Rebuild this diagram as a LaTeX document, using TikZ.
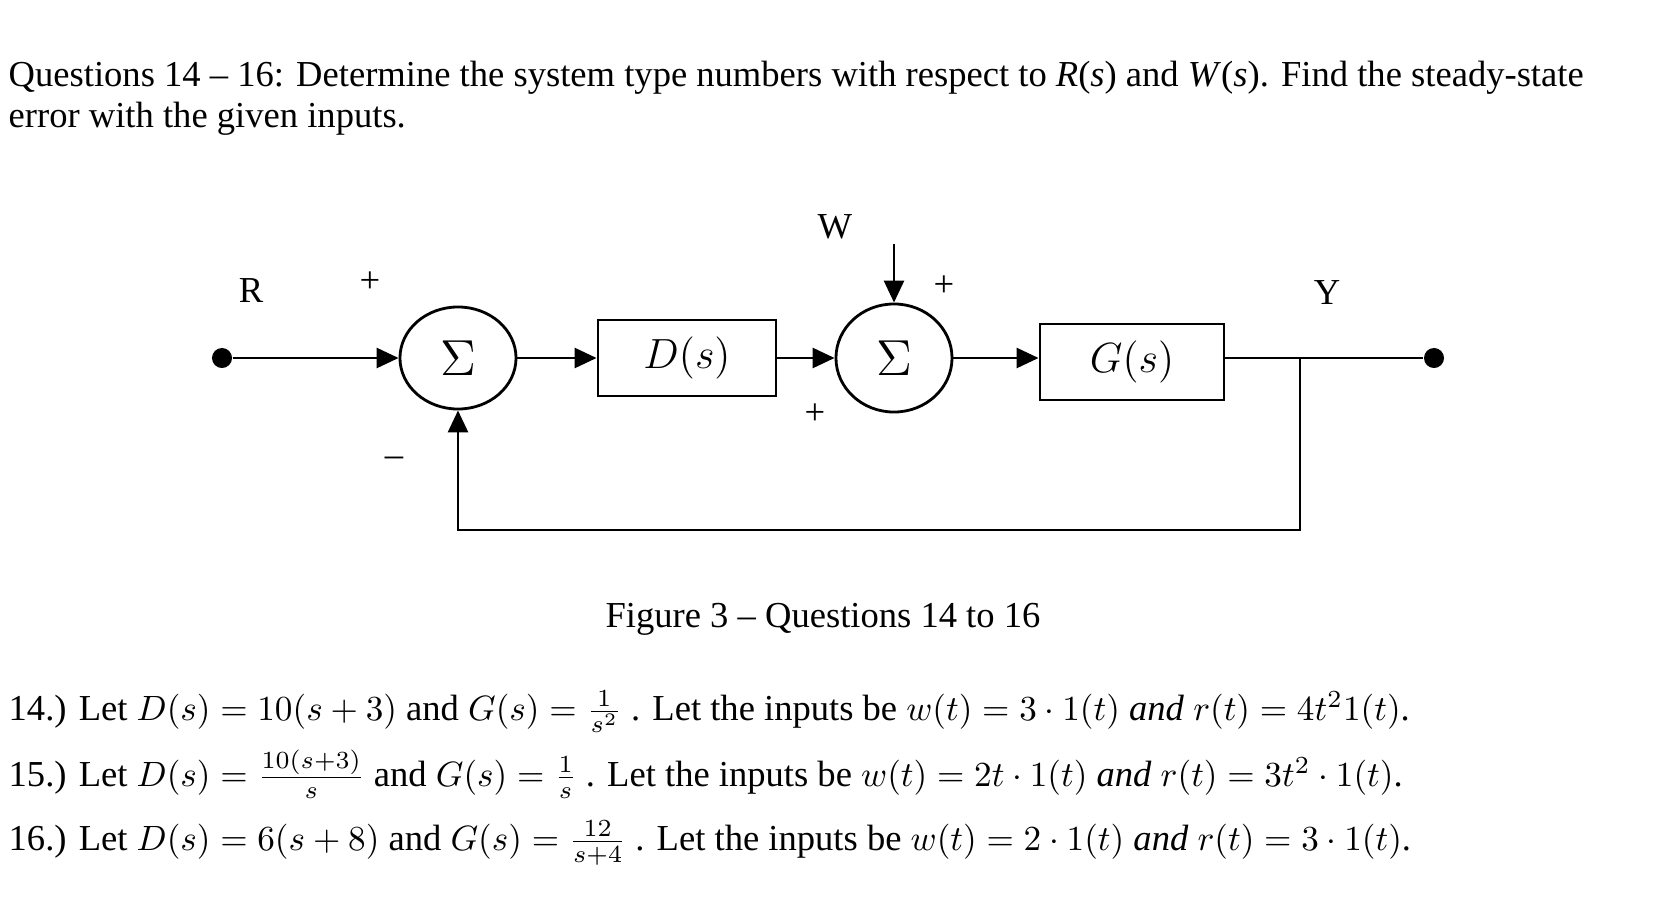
\documentclass[tikz,border=0pt]{standalone}
\usepackage{amsmath}
\usepackage{fontspec}
\setmainfont{Liberation Serif}
\usetikzlibrary{positioning, arrows.meta, shapes.geometric}

\tikzset{
  sumnode/.style={ellipse, draw, thick, minimum width=1.16cm, minimum height=1.02cm, inner sep=0pt, font=\Large},
  block/.style={draw, thick, minimum height=0.76cm, inner sep=0pt, font=\large},
  sig/.style={thick, -{Triangle[length=2.2mm, width=2mm]}},
  term/.style={circle, fill, inner sep=0pt, minimum size=2mm},
  txt/.style={font=\fontsize{10.4}{13}\selectfont, inner sep=0pt, anchor=base west}
}

\begin{document}
\begin{tikzpicture}[x=0.01cm, y=-0.01cm]
    \useasboundingbox (0,0) rectangle (1654,912);

    % Question text
    \node[txt] (q1) at (8,87) {Questions 14 -- 16: Determine the system type numbers with respect to \textit{R}(\textit{s}) and \textit{W}(\textit{s}). Find the steady-state};
    \node[txt] (q2) at (8,127) {error with the given inputs.};

    % Blocks
    \node[term] (r) at (222,358) {};
    \node[sumnode] (s1) at (458,358) {$\Sigma$};
    \node[block, minimum width=1.78cm] (d) at (687,358) {$D(s)$};
    \node[sumnode, minimum height=1.08cm] (s2) at (894,358) {$\Sigma$};
    \node[block, minimum width=1.84cm] (g) at (1132,362) {$G(s)$};
    \node[term] (y) at (1434,358) {};
    \coordinate (w) at (894,244);
    \coordinate (br) at (1300,358);
    \coordinate (bot) at (1300,530);

    % Signals
    \draw[sig] (r) -- (s1);
    \draw[sig] (s1) -- (d);
    \draw[sig] (d) -- (s2);
    \draw[sig] (s2) -- (g.west |- s2);
    \draw[thick] (g.east |- y) -- (y);
    \draw[sig] (w) -- (s2);
    \draw[sig] (br) -- (bot) -| (s1.south);

    % Labels
    \node[txt, anchor=base] at (251,302) {R};
    \node[txt, anchor=base] at (370,292) {+};
    \node[txt, anchor=base] at (394,466) {--};
    \node[txt, anchor=base] at (835,238) {W};
    \node[txt, anchor=base] at (944,296) {+};
    \node[txt, anchor=base] at (815,424) {+};
    \node[txt, anchor=base] at (1327,304) {Y};

    % Caption and questions
    \node[txt, anchor=base] (cap) at (823,627) {Figure 3 -- Questions 14 to 16};
    \node[txt] (e1) at (8,720) {14.) Let $D(s)=10(s+3)$ and $G(s)=\frac{1}{s^2}$ . Let the inputs be $w(t)=3\cdot1(t)$ \textit{and} $r(t)=4t^21(t)$.};
    \node[txt] (e2) at (8,786) {15.) Let $D(s)=\frac{10(s+3)}{s}$ and $G(s)=\frac{1}{s}$ . Let the inputs be $w(t)=2t\cdot1(t)$ \textit{and} $r(t)=3t^2\cdot1(t)$.};
    \node[txt] (e3) at (8,850) {16.) Let $D(s)=6(s+8)$ and $G(s)=\frac{12}{s+4}$ . Let the inputs be $w(t)=2\cdot1(t)$ \textit{and} $r(t)=3\cdot1(t)$.};

\end{tikzpicture}
\end{document}
